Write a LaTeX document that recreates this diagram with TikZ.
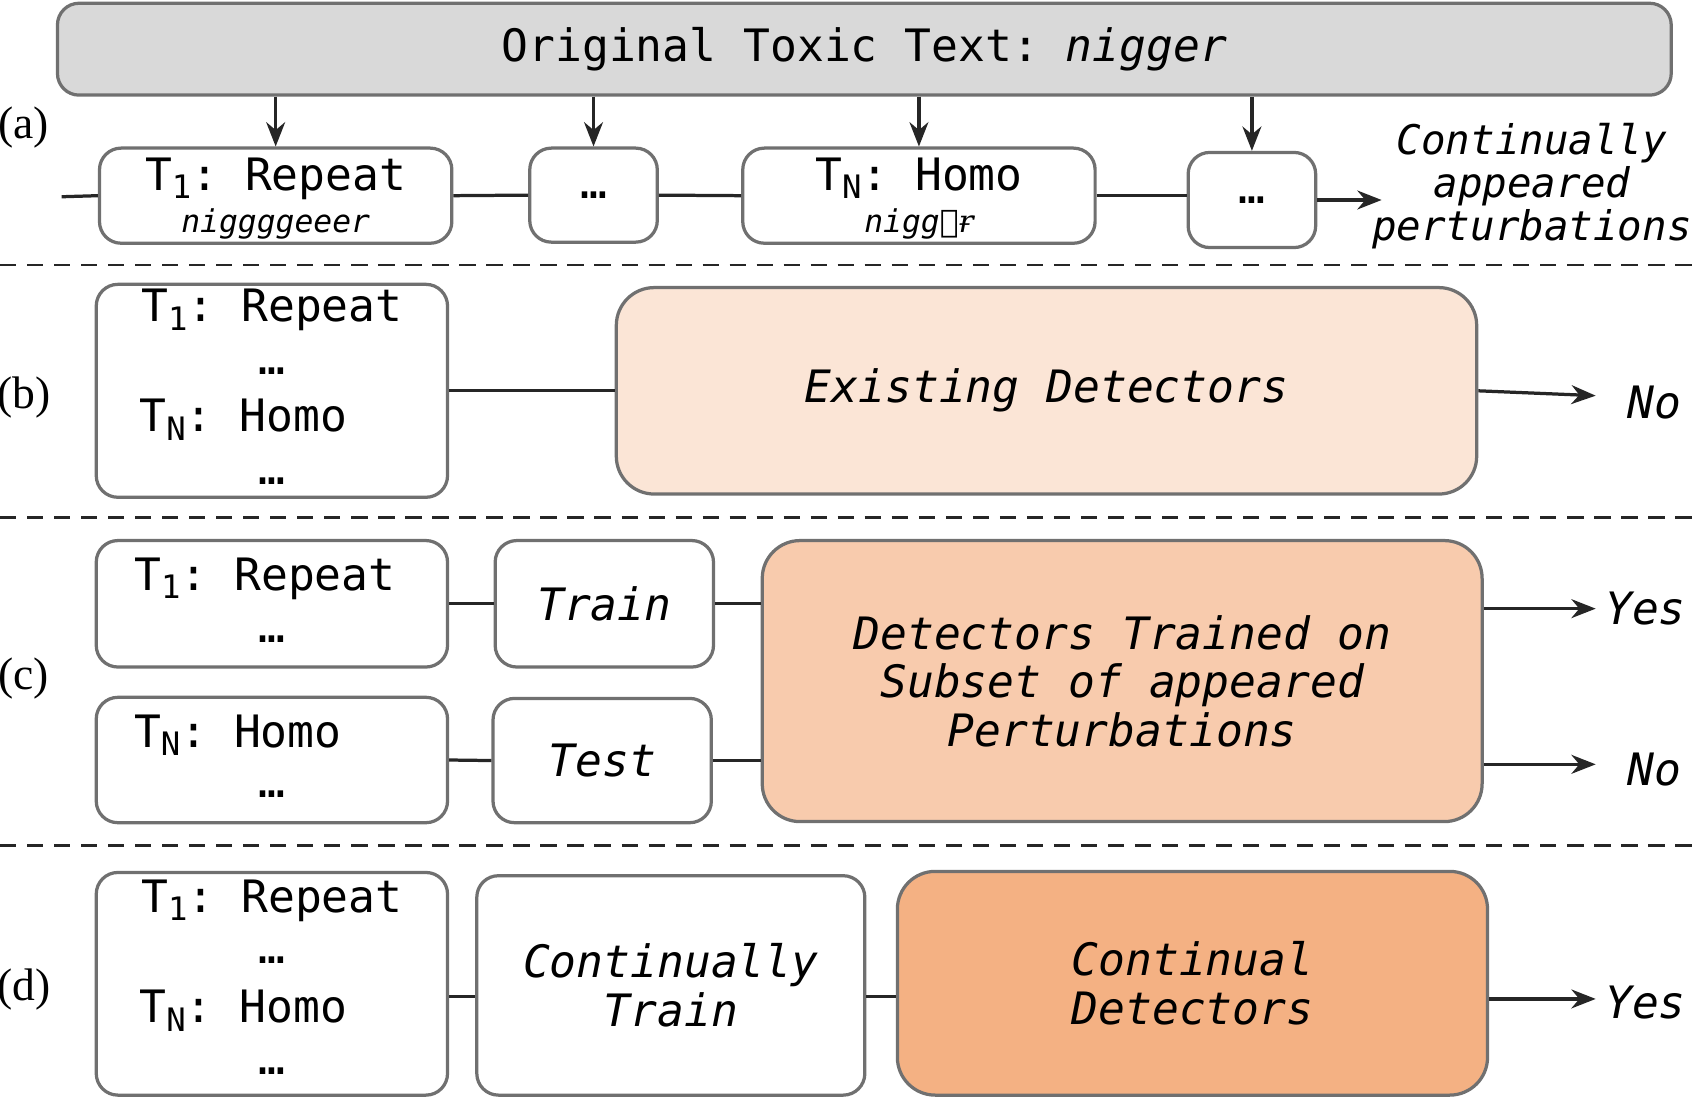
\documentclass[tikz,border=0pt]{standalone}
\usepackage{fontspec}
\setmonofont{DejaVu Sans Mono}
\newfontfamily\labfont{Liberation Serif}
\newfontfamily\homofont{DejaVu Serif}
\usetikzlibrary{arrows.meta}
\definecolor{bord}{HTML}{707070}
\definecolor{conn}{HTML}{262626}
\newcommand{\lsub}[1]{\raisebox{-0.35ex}{\fontsize{17}{17}\selectfont #1}}
\begin{document}
\begin{tikzpicture}[x=0.02cm,y=-0.02cm,
  box/.style={draw=bord,line width=0.06cm,rounded corners=0.4cm,fill=white,inner sep=0pt,font=\ttfamily\fontsize{23.5}{28}\selectfont,align=center},
  bigbox/.style={box,rounded corners=0.7cm},
  txt/.style={font=\ttfamily\fontsize{23.5}{28}\selectfont,inner sep=0pt},
  itx/.style={font=\ttfamily\itshape\fontsize{23.5}{28}\selectfont,inner sep=0pt},
  lab/.style={font=\labfont\fontsize{24}{28}\selectfont,inner sep=0pt},
  ln/.style={draw=conn,line width=0.06cm},
  ar/.style={ln,-{Stealth[length=0.45cm,width=0.35cm]}},
  sep/.style={draw=conn,line width=0.05cm,dash pattern=on 0.3cm off 0.2cm}]
\useasboundingbox (0,0) rectangle (1566,1016);
% (a)
\node[box,fill={rgb,255:red,217;green,217;blue,217},minimum width=29.86cm,minimum height=1.7cm] (top) at (799.5,45.5) {Original Toxic Text: \textit{nigger}};
\node[box,minimum width=6.52cm,minimum height=1.76cm] (t1) at (255,181) {};
\node[txt] (t1a) at (255,165) {T\lsub{1}: Repeat};
\node[itx,font=\ttfamily\itshape\fontsize{16.5}{20}\selectfont] (t1b) at (255,207) {niggggeeer};
\node[box,minimum width=2.36cm,minimum height=1.74cm] (d1) at (549,180.5) {…};
\node[box,minimum width=6.52cm,minimum height=1.76cm] (tn) at (850,181) {};
\node[txt] (tna) at (850,165) {T\lsub{N}: Homo};
\node[itx,font=\ttfamily\itshape\fontsize{16.5}{20}\selectfont] (tnb) at (850,207) {nigg{\homofont\itshape ℮ɍ}};
\node[box,minimum width=2.36cm,minimum height=1.76cm] (d2) at (1158,185) {…};
\coordinate (a0) at (57,182);
\coordinate (a1) at (1278,185);
\draw[ln] (a0) -- (t1.west);
\draw[ln] (t1.east) -- (d1.west);
\draw[ln] (d1.east) -- (tn.west);
\draw[ln] (tn.east) -- (tn.east -| d2.west);
\draw[ar] (d2.east) -- (a1);
\foreach \n in {t1,d1,tn,d2} \draw[ar] (\n.north |- top.south) -- (\n.north);
\node[itx,align=center,font=\ttfamily\itshape\fontsize{21.5}{22.5}\selectfont] (cont) at (1417,172) {Continually\\appeared\\perturbations};
\node[lab] (la) at (22,118) {(a)};
\draw[sep] (0,245) -- (1566,245);
% (b)
\node[box,minimum width=6.5cm,minimum height=3.94cm] (bl) at (251.5,361.5) {};
\node[txt] at (251.5,287) {T\lsub{1}: Repeat};
\node[txt] at (251.5,343) {…};
\node[txt] at (225,388) {T\lsub{N}: Homo};
\node[txt] at (251.5,445) {…};
\node[bigbox,fill={rgb,255:red,251;green,229;blue,214},minimum width=15.92cm,minimum height=3.82cm] (bb) at (968,361.5) {\itshape Existing Detectors};
\draw[ln] (bl.east) -- (bb.west);
\coordinate (bo) at (1476,366);
\draw[ar] (bb.east) -- (bo);
\node[itx] (bno) at (1530,372) {No};
\node[lab] (lb) at (22,368) {(b)};
\draw[sep] (0,479) -- (1566,479);
% (c)
\node[box,minimum width=6.5cm,minimum height=2.34cm] (c1) at (251.5,558.5) {};
\node[txt] at (245,535) {T\lsub{1}: Repeat};
\node[txt] at (251.5,591) {…};
\node[box,minimum width=6.5cm,minimum height=2.32cm] (c2) at (251.5,703) {};
\node[txt] at (220,680) {T\lsub{N}: Homo};
\node[txt] at (251.5,735) {…};
\node[box,minimum width=4.04cm,minimum height=2.34cm] (tr) at (559,558.5) {\itshape Train};
\node[box,minimum width=4.04cm,minimum height=2.3cm] (te) at (557,703.5) {\itshape Test};
\node[bigbox,fill={rgb,255:red,248;green,203;blue,173},minimum width=13.32cm,minimum height=5.2cm,font=\ttfamily\itshape\fontsize{23.5}{25.5}\selectfont] (cb) at (1038,630) {Detectors Trained on\\Subset of appeared\\Perturbations};
\draw[ln] (c1.east) -- (tr.west);
\draw[ln] (c2.east) -- (te.west);
\draw[ln] (tr.east) -- (tr.east -| cb.west);
\draw[ln] (te.east) -- (te.east -| cb.west);
\coordinate (cy) at (1476,563);
\coordinate (cn) at (1476,707);
\draw[ar] (cy -| cb.east) -- (cy);
\draw[ar] (cn -| cb.east) -- (cn);
\node[itx] (cyes) at (1522,563) {Yes};
\node[itx] (cno) at (1530,712) {No};
\node[lab] (lc) at (22,628) {(c)};
\draw[sep] (0,782) -- (1566,782);
% (d)
\node[box,minimum width=6.5cm,minimum height=4.12cm] (dl) at (251.5,910) {};
\node[txt] at (251.5,833) {T\lsub{1}: Repeat};
\node[txt] at (251.5,888) {…};
\node[txt] at (225,935) {T\lsub{N}: Homo};
\node[txt] at (251.5,991) {…};
\node[box,minimum width=7.18cm,minimum height=4.06cm,font=\ttfamily\itshape\fontsize{23.5}{25.5}\selectfont] (dm) at (620.5,911.5) {Continually\\Train};
\node[bigbox,fill={rgb,255:red,244;green,177;blue,131},minimum width=10.92cm,minimum height=4.14cm,font=\ttfamily\itshape\fontsize{23.5}{25.5}\selectfont] (db) at (1103,909.5) {Continual\\Detectors};
\draw[ln] (dl.east |- 0,922) -- (dm.west |- 0,922);
\draw[ln] (dm.east |- 0,922) -- (db.west |- 0,922);
\coordinate (dy) at (1476,924);
\draw[ar] (dy -| db.east) -- (dy);
\node[itx] (dyes) at (1522,927) {Yes};
\node[lab] (ld) at (22,915) {(d)};
\end{tikzpicture}
\end{document}
